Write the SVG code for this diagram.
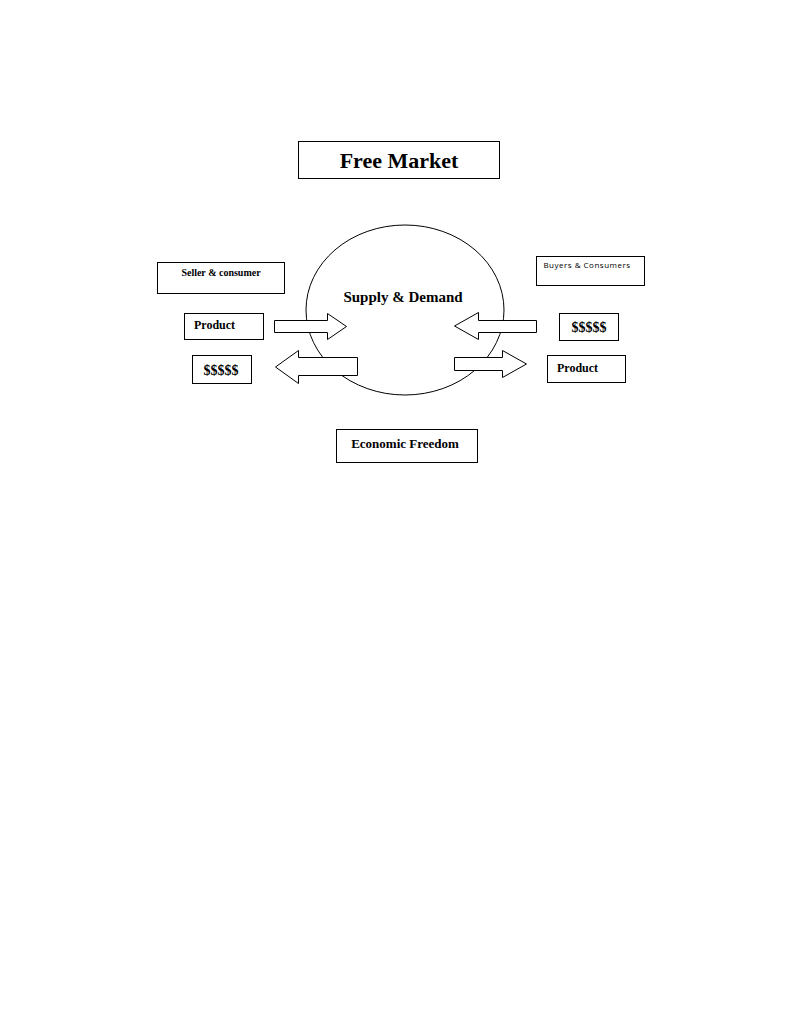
<svg xmlns="http://www.w3.org/2000/svg" width="791" height="1023" viewBox="0 0 791 1023">
<style>
.b{fill:#fff;stroke:#000;stroke-width:1}
.t{font-family:"Liberation Serif",serif;font-weight:bold;fill:#000}
.a{fill:#fff;stroke:#000;stroke-width:1}
</style>
<rect width="791" height="1023" fill="#fff"/>
<g id="title"><rect class="b" x="298.5" y="141.5" width="201" height="37"/><text class="t" x="399" y="168" font-size="22" text-anchor="middle">Free Market</text></g>
<g id="market"><ellipse class="b" cx="405" cy="310" rx="99" ry="85"/><text class="t" x="403" y="302" font-size="15" text-anchor="middle">Supply &amp; Demand</text></g>
<g id="seller"><rect class="b" x="157.5" y="262.5" width="127" height="31"/><text class="t" x="221" y="276" font-size="10" text-anchor="middle">Seller &amp; consumer</text></g>
<g id="buyers"><rect class="b" x="536.5" y="256.5" width="108" height="29"/><text x="587" y="268" font-size="8" text-anchor="middle" font-family="Open Sans,sans-serif" letter-spacing="0.5">Buyers &amp; Consumers</text></g>
<g id="product-left"><rect class="b" x="184.5" y="313.5" width="79" height="26"/><text class="t" x="194" y="329" font-size="12">Product</text></g>
<g id="money-left"><rect class="b" x="192.5" y="355.5" width="59" height="28"/><text class="t" x="221" y="375" font-size="14" text-anchor="middle">$$$$$</text></g>
<g id="money-right"><rect class="b" x="559.5" y="313.5" width="59" height="27"/><text class="t" x="589" y="332" font-size="14" text-anchor="middle">$$$$$</text></g>
<g id="product-right"><rect class="b" x="547.5" y="355.5" width="78" height="27"/><text class="t" x="557" y="372" font-size="12">Product</text></g>
<g id="freedom"><rect class="b" x="336.5" y="429.5" width="141" height="33"/><text class="t" x="405" y="448" font-size="13" text-anchor="middle">Economic Freedom</text></g>
<g id="connectors">
<polygon class="a" points="274.5,320.5 327.5,320.5 327.5,313.5 346.5,326.5 327.5,339.5 327.5,332.5 274.5,332.5"/>
<polygon class="a" points="357.5,357.5 298.5,357.5 298.5,350.5 275.5,367 298.5,383.5 298.5,375.5 357.5,375.5"/>
<polygon class="a" points="536.5,320.5 478.5,320.5 478.5,312.5 454.5,326 478.5,339.5 478.5,332.5 536.5,332.5"/>
<polygon class="a" points="454.5,357.5 502.5,357.5 502.5,350.5 526.5,364 502.5,377.5 502.5,370.5 454.5,370.5"/>
</g>
</svg>
